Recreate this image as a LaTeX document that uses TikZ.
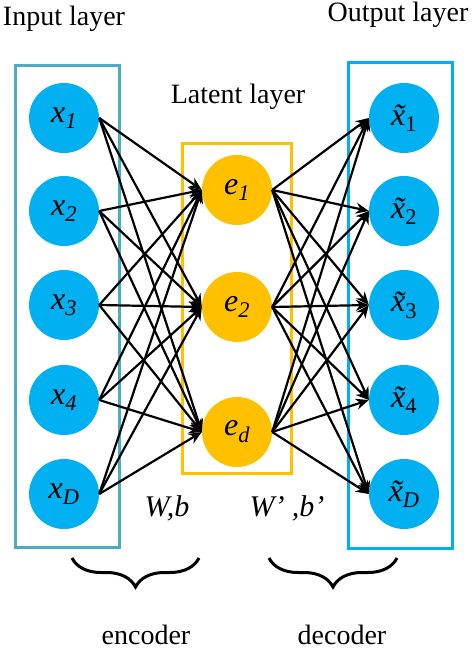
\documentclass[tikz,border=0pt]{standalone}
\usepackage{fontspec}
\setmainfont{LiberationSerif}[Extension=.ttf,UprightFont=*-Regular,ItalicFont=*-Italic,BoldFont=*-Bold]
\usetikzlibrary{arrows.meta,decorations.pathreplacing}
\definecolor{unitblue}{RGB}{0,176,240}
\definecolor{inframe}{RGB}{75,172,198}
\definecolor{unitgold}{RGB}{255,192,0}
\tikzset{
  unit/.style={circle,minimum size=70pt,inner sep=0pt,font=\fontsize{32}{34}\selectfont\itshape},
  blueunit/.style={unit,fill=unitblue},
  goldunit/.style={unit,fill=unitgold},
  link/.style={line width=2.2pt,-{Stealth[length=13pt,width=11pt]}},
  frame/.style={line width=3pt},
  caption/.style={font=\fontsize{28}{30}\selectfont},
  bracket/.style={line width=3pt,decorate,decoration={brace,mirror,amplitude=29pt}}
}
\begin{document}
\begin{tikzpicture}[x=1pt,y=-1pt]
\useasboundingbox (0,0) rectangle (474,650);
% frames
\draw[frame,inframe] (15,66) rectangle (119,547);
\draw[frame,unitgold] (182,143) rectangle (291,473);
\draw[frame,unitblue] (348,63) rectangle (452,548);
% layer names
\node[caption] (inname) at (64,19) {Input layer};
\node[caption] (latname) at (238,97) {Latent layer};
\node[caption] (outname) at (398,15) {Output layer};
% units
\foreach \n/\y/\t in {1/118/1,2/211/2,3/305/3,4/400/4,5/494/D}
  \node[blueunit] (x\n) at (64,\y) {x\textsubscript{\t}};
\foreach \n/\y/\t in {1/118/1,2/211/2,3/305/3,4/400/4}
  \node[blueunit] (y\n) at (404,\y) {\~{x}\textsubscript{\upshape\t}};
\node[blueunit] (y5) at (404,494) {\~{x}\textsubscript{D}};
\foreach \n/\y/\t in {1/190/1,2/307/2,3/432/d}
  \node[goldunit] (e\n) at (237,\y) {e\textsubscript{\t}};
% weights
\foreach \i in {1,...,5}
  \foreach \j in {1,2,3} {
    \draw[link] (x\i.east) -- (e\j.west);
    \draw[link] (e\j.east) -- (y\i.west);
  }
\node[caption,font=\fontsize{30}{32}\selectfont\itshape] (enw) at (167,508) {W,b};
\node[caption,font=\fontsize{30}{32}\selectfont\itshape] (dew) at (287,508) {W’ ,b’};
% braces
\coordinate (encl) at (72,558);
\coordinate (encr) at (199,558);
\coordinate (decl) at (269,558);
\coordinate (decr) at (397,558);
\draw[bracket] (encl) -- (encr);
\draw[bracket] (decl) -- (decr);
\node[caption] (enc) at (146,635) {encoder};
\node[caption] (dec) at (342,635) {decoder};
\end{tikzpicture}
\end{document}
